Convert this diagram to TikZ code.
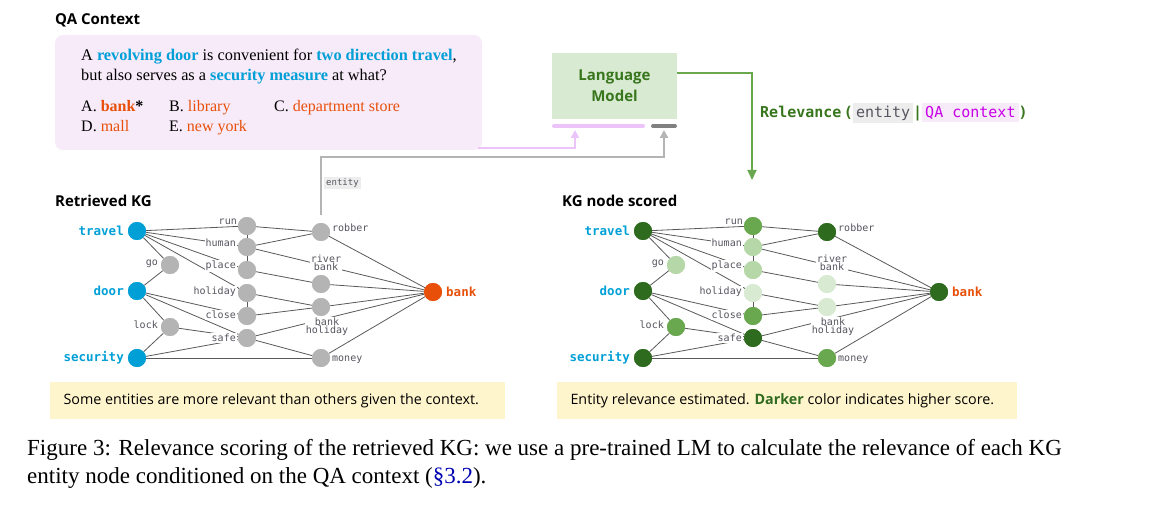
\documentclass[tikz,border=0pt]{standalone}
\usepackage{fontspec}
\setmainfont{Liberation Serif}
\newfontfamily\sansf{Open Sans}
\newfontfamily\monof{DejaVu Sans Mono}
\usetikzlibrary{arrows.meta}
\definecolor{eblue}{RGB}{0,160,215}
\definecolor{eorange}{RGB}{232,80,10}
\definecolor{gdark}{RGB}{46,107,31}
\definecolor{gmid}{RGB}{106,168,79}
\definecolor{glight}{RGB}{182,215,168}
\definecolor{gvlight}{RGB}{217,234,211}
\definecolor{ngray}{RGB}{180,180,180}
\definecolor{lav}{RGB}{247,234,249}
\definecolor{pinkb}{RGB}{236,196,250}
\definecolor{yel}{RGB}{255,245,204}
\definecolor{lmgreen}{RGB}{56,118,29}
\definecolor{lbl}{RGB}{85,85,95}
\definecolor{magq}{RGB}{200,0,230}
\tikzset{
 kn/.style={circle,minimum size=18pt,inner sep=0pt,fill=#1},
 ed/.style={draw=black!65,line width=0.8pt},
 lb/.style={font=\monof\fontsize{10}{10}\selectfont,text=lbl,fill=white,inner sep=1pt,align=center},
 en/.style={font=\monof\bfseries\fontsize{12.5}{12.5}\selectfont,text=eblue,inner sep=1pt},
 hd/.style={font=\sansf\bfseries\fontsize{15}{15}\selectfont,anchor=west,inner sep=0pt},
}
\newcommand\kgraph[2]{%
\begin{scope}[xshift=#1]
\foreach \n/\x/\y/\c in {#2}{\node[kn=\c] (\n) at (\x,\y) {};}
\foreach \a/\b in {tr/run,tr/hum,tr/pla,tr/hol,tr/go,go/door,door/clo,door/saf,door/lock,lock/sec,lock/saf,sec/saf,sec/mon,run/rob,hum/rob,hum/bk,pla/rvb,hol/bkh,clo/bkh,saf/bk,saf/mon,run/hum,hum/pla,hol/clo,rob/bk,rvb/bk,bkh/bk,mon/bk}
  {\draw[ed] (\a) -- (\b);}
\foreach \n/\x/\y/\c in {#2}{\node[kn=\c] at (\x,\y) {};}
\node[lb,anchor=south east] at (238,226) {run};
\node[lb,anchor=east] at (237,243) {human};
\node[lb,anchor=east] at (237,266) {place};
\node[lb,anchor=east] at (237,292) {holiday};
\node[lb,anchor=east] at (237,315) {close};
\node[lb,anchor=east] at (237,338) {safe};
\node[lb,anchor=east] at (159,264) {go};
\node[lb,anchor=east] at (159,325) {lock};
\node[lb,anchor=west] at (331,228) {robber};
\node[lb,anchor=west] at (331,360) {money};
\node[lb] at (326,263) {river\\[-2pt]bank};
\node[lb] at (327,327) {bank\\[-2pt]holiday};
\node[en,anchor=east] at (125,231) {travel};
\node[en,anchor=east] at (125,291) {door};
\node[en,anchor=east] at (125,358) {security};
\node[en,anchor=west,text=eorange] at (445,292) {bank};
\end{scope}}
\begin{document}
\begin{tikzpicture}[yscale=-1,x=1pt,y=1pt]
\useasboundingbox (0,0) rectangle (1161,505);
% QA context
\node[hd] at (55,20) {QA Context};
\fill[lav,rounded corners=8pt] (55,35) rectangle (482,150);
\node[anchor=north west,inner sep=0pt,align=left,font=\fontsize{16.3}{19.5}\selectfont] (qa) at (81,49)
 {A \textcolor{eblue}{\bfseries revolving door} is convenient for \textcolor{eblue}{\bfseries two direction travel},\\
  but also serves as a \textcolor{eblue}{\bfseries security measure} at what?};
\begin{scope}[font=\fontsize{16}{16}\selectfont]
\node[anchor=base west,inner sep=0pt] at (81,112) {A. \textcolor{eorange}{\bfseries bank}\textbf{*}};
\node[anchor=base west,inner sep=0pt] at (169,112) {B. \textcolor{eorange}{library}};
\node[anchor=base west,inner sep=0pt] at (274,112) {C. \textcolor{eorange}{department store}};
\node[anchor=base west,inner sep=0pt] at (81,132) {D. \textcolor{eorange}{mall}};
\node[anchor=base west,inner sep=0pt] at (169,132) {E. \textcolor{eorange}{new york}};
\end{scope}
% LM
\node[fill=gvlight,minimum width=125pt,minimum height=66pt,align=center,text=lmgreen,
 font=\sansf\bfseries\fontsize{15}{21}\selectfont] (lm) at (614.5,86) {Language\\Model};
\draw[pinkb,line width=4pt,line cap=round] (554,126) -- (643,126);
\draw[gray,line width=4pt,line cap=round] (653,126) -- (675,126);
\coordinate (pb) at (575,130);
\coordinate (gb) at (664,130);
\coordinate (qo) at (478,148);
\draw[pinkb,line width=2pt,-{Triangle[length=8pt,width=8pt]}] (qo) -- (575,148) -- (pb);
\coordinate (es) at (321,215);
\draw[ngray,line width=2pt,-{Triangle[length=8pt,width=8pt]}] (es) -- (321,157) -- (664,157) -- (gb);
\node[fill=black!7,font=\monof\fontsize{9}{9}\selectfont,text=lbl,inner sep=2pt,anchor=west] at (324,183) {entity};
\coordinate (gd) at (752,180);
\draw[gmid,line width=2pt,-{Triangle[length=10pt,width=9pt]}] (lm.east|-0,73) -- (752,73) -- (gd);
\node[anchor=west,inner sep=0pt,font=\monof\bfseries\fontsize{15}{15}\selectfont] at (760,113)
 {\textcolor{lmgreen}{Relevance}\,\textcolor{lmgreen}{(}\colorbox{black!7}{\mdseries\textcolor{lbl}{entity}}\textcolor{lmgreen}{|}\colorbox{lav}{\mdseries\textcolor{magq}{QA context}}\textcolor{lmgreen}{)}};
% graphs
\node[hd] at (55,201) {Retrieved KG};
\node[hd] at (562,201) {KG node scored};
\kgraph{0}{tr/137/231/eblue,go/170/265/ngray,door/137/291/eblue,lock/170/327/ngray,sec/137/358/eblue,run/247/226/ngray,hum/247/247/ngray,pla/247/270/ngray,hol/247/293/ngray,clo/247/316/ngray,saf/247/338/ngray,rob/321/232/ngray,rvb/321/284/ngray,bkh/321/307/ngray,mon/321/358/ngray,bk/433/292/eorange}
\kgraph{506}{tr/137/231/gdark,go/170/265/glight,door/137/291/gdark,lock/170/327/gmid,sec/137/358/gdark,run/247/226/gmid,hum/247/247/glight,pla/247/270/glight,hol/247/293/gvlight,clo/247/316/gmid,saf/247/338/gdark,rob/321/232/gdark,rvb/321/284/gvlight,bkh/321/307/gvlight,mon/321/358/gmid,bk/433/292/gdark}
% bottom notes
\fill[yel] (50,382) rectangle (505,419);
\node[anchor=west,font=\sansf\fontsize{14.3}{14}\selectfont] at (60,400.5) {Some entities are more relevant than others given the context.};
\fill[yel] (557,382) rectangle (1017,419);
\node[anchor=west,font=\sansf\fontsize{14.3}{14}\selectfont] at (567,400.5) {Entity relevance estimated. \textcolor{gdark}{\bfseries Darker} color indicates higher score.};
% caption
\node[anchor=base west,inner sep=0pt,font=\fontsize{23}{23}\selectfont] at (27,455) {Figure 3: Relevance scoring of the retrieved KG: we use a pre-trained LM to calculate the relevance of each KG};
\node[anchor=base west,inner sep=0pt,font=\fontsize{23}{23}\selectfont] at (27,483) {entity node conditioned on the QA context (\textcolor{blue!70!black}{§3.2}).};
\end{tikzpicture}
\end{document}
